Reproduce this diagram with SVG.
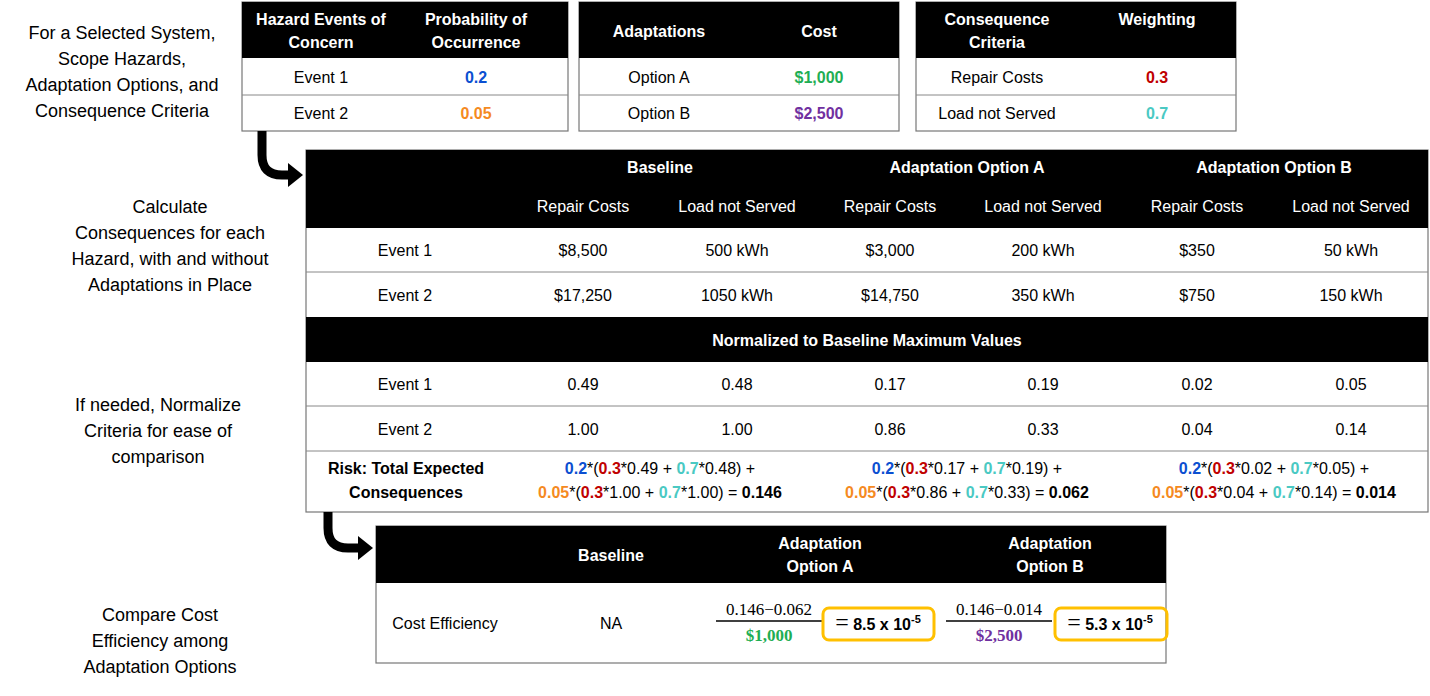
<svg xmlns="http://www.w3.org/2000/svg" width="1430" height="696" viewBox="0 0 1430 696">
<style>
text{font-family:"Liberation Sans",Arial,sans-serif;font-size:16px;text-anchor:middle;fill:#000}
.h{fill:#fff;font-weight:bold}
.l{font-size:18px}
.b{font-weight:bold}
.bl{fill:#0b4fd1;font-weight:bold}.or{fill:#f58a1f;font-weight:bold}.gr{fill:#1fae54;font-weight:bold}.pu{fill:#7030a0;font-weight:bold}.rd{fill:#c00000;font-weight:bold}.tl{fill:#4ac9c3;font-weight:bold}
.box{fill:#fff;stroke:#777;stroke-width:1.2}
.line{stroke:#888;stroke-width:1}
.sf{font-family:"Liberation Serif",serif;font-size:17px}
.yb{fill:none;stroke:#ffc000;stroke-width:3}
</style>
<rect width="1430" height="696" fill="#fff"/>
<g id="labels">
<text class="l" x="122" y="39">For a Selected System,</text>
<text class="l" x="122" y="65">Scope Hazards,</text>
<text class="l" x="122" y="91">Adaptation Options, and</text>
<text class="l" x="122" y="117">Consequence Criteria</text>
<text class="l" x="170" y="213">Calculate</text>
<text class="l" x="170" y="239">Consequences for each</text>
<text class="l" x="170" y="265">Hazard, with and without</text>
<text class="l" x="170" y="291">Adaptations in Place</text>
<text class="l" x="158" y="411">If needed, Normalize</text>
<text class="l" x="158" y="437">Criteria for ease of</text>
<text class="l" x="158" y="463">comparison</text>
<text class="l" x="160" y="621">Compare Cost</text>
<text class="l" x="160" y="647">Efficiency among</text>
<text class="l" x="160" y="673">Adaptation Options</text>
</g>
<g id="hazards">
<rect class="box" x="242" y="2" width="326" height="129"/>
<rect x="242" y="2" width="326" height="56" fill="#000"/>
<line class="line" x1="242" y1="95" x2="568" y2="95"/>
<text class="h" x="321" y="25">Hazard Events of</text><text class="h" x="321" y="48">Concern</text>
<text class="h" x="476" y="25">Probability of</text><text class="h" x="476" y="48">Occurrence</text>
<text x="321" y="83">Event 1</text><text class="bl" x="476" y="83">0.2</text>
<text x="321" y="119">Event 2</text><text class="or" x="476" y="119">0.05</text>
</g>
<g id="adaptations">
<rect class="box" x="579" y="2" width="320" height="129"/>
<rect x="579" y="2" width="320" height="56" fill="#000"/>
<line class="line" x1="579" y1="95" x2="899" y2="95"/>
<text class="h" x="659" y="37">Adaptations</text><text class="h" x="819" y="37">Cost</text>
<text x="659" y="83">Option A</text><text class="gr" x="819" y="83">$1,000</text>
<text x="659" y="119">Option B</text><text class="pu" x="819" y="119">$2,500</text>
</g>
<g id="criteria">
<rect class="box" x="916" y="2" width="320" height="129"/>
<rect x="916" y="2" width="320" height="56" fill="#000"/>
<line class="line" x1="916" y1="95" x2="1236" y2="95"/>
<text class="h" x="997" y="25">Consequence</text><text class="h" x="997" y="48">Criteria</text>
<text class="h" x="1157" y="25">Weighting</text>
<text x="997" y="83">Repair Costs</text><text class="rd" x="1157" y="83">0.3</text>
<text x="997" y="119">Load not Served</text><text class="tl" x="1157" y="119">0.7</text>
</g>
<g id="consequences">
<rect class="box" x="306" y="150" width="1122" height="362"/>
<rect x="306" y="150" width="1122" height="78" fill="#000"/>
<rect x="306" y="317" width="1122" height="45" fill="#000"/>
<line class="line" x1="306" y1="272" x2="1428" y2="272"/>
<line class="line" x1="306" y1="406" x2="1428" y2="406"/>
<line class="line" x1="306" y1="451" x2="1428" y2="451"/>
<text class="h" x="660" y="173">Baseline</text><text class="h" x="967" y="173">Adaptation Option A</text><text class="h" x="1274" y="173">Adaptation Option B</text>
<g fill="#fff"><text style="fill:#fff" x="583" y="212">Repair Costs</text><text style="fill:#fff" x="737" y="212">Load not Served</text><text style="fill:#fff" x="890" y="212">Repair Costs</text><text style="fill:#fff" x="1043" y="212">Load not Served</text><text style="fill:#fff" x="1197" y="212">Repair Costs</text><text style="fill:#fff" x="1351" y="212">Load not Served</text></g>
<text x="405" y="256">Event 1</text><text x="583" y="256">$8,500</text><text x="737" y="256">500 kWh</text><text x="890" y="256">$3,000</text><text x="1043" y="256">200 kWh</text><text x="1197" y="256">$350</text><text x="1351" y="256">50 kWh</text>
<text x="405" y="301">Event 2</text><text x="583" y="301">$17,250</text><text x="737" y="301">1050 kWh</text><text x="890" y="301">$14,750</text><text x="1043" y="301">350 kWh</text><text x="1197" y="301">$750</text><text x="1351" y="301">150 kWh</text>
<text class="h" x="867" y="346">Normalized to Baseline Maximum Values</text>
<text x="405" y="390">Event 1</text><text x="583" y="390">0.49</text><text x="737" y="390">0.48</text><text x="890" y="390">0.17</text><text x="1043" y="390">0.19</text><text x="1197" y="390">0.02</text><text x="1351" y="390">0.05</text>
<text x="405" y="435">Event 2</text><text x="583" y="435">1.00</text><text x="737" y="435">1.00</text><text x="890" y="435">0.86</text><text x="1043" y="435">0.33</text><text x="1197" y="435">0.04</text><text x="1351" y="435">0.14</text>
<text class="b" x="406" y="474">Risk: Total Expected</text><text class="b" x="406" y="498">Consequences</text>
<text x="660" y="474"><tspan class="bl">0.2</tspan>*(<tspan class="rd">0.3</tspan>*0.49 + <tspan class="tl">0.7</tspan>*0.48) +</text>
<text x="660" y="498"><tspan class="or">0.05</tspan>*(<tspan class="rd">0.3</tspan>*1.00 + <tspan class="tl">0.7</tspan>*1.00) = <tspan class="b">0.146</tspan></text>
<text x="967" y="474"><tspan class="bl">0.2</tspan>*(<tspan class="rd">0.3</tspan>*0.17 + <tspan class="tl">0.7</tspan>*0.19) +</text>
<text x="967" y="498"><tspan class="or">0.05</tspan>*(<tspan class="rd">0.3</tspan>*0.86 + <tspan class="tl">0.7</tspan>*0.33) = <tspan class="b">0.062</tspan></text>
<text x="1274" y="474"><tspan class="bl">0.2</tspan>*(<tspan class="rd">0.3</tspan>*0.02 + <tspan class="tl">0.7</tspan>*0.05) +</text>
<text x="1274" y="498"><tspan class="or">0.05</tspan>*(<tspan class="rd">0.3</tspan>*0.04 + <tspan class="tl">0.7</tspan>*0.14) = <tspan class="b">0.014</tspan></text>
</g>
<g id="efficiency">
<rect class="box" x="376" y="526" width="790" height="137"/>
<rect x="376" y="526" width="790" height="57" fill="#000"/>
<text class="h" x="611" y="561">Baseline</text>
<text class="h" x="820" y="549">Adaptation</text><text class="h" x="820" y="572">Option A</text>
<text class="h" x="1050" y="549">Adaptation</text><text class="h" x="1050" y="572">Option B</text>
<text x="445" y="629">Cost Efficiency</text><text x="611" y="629">NA</text>
<text class="sf" x="769" y="615">0.146−0.062</text>
<line x1="716" y1="621" x2="822" y2="621" stroke="#000" stroke-width="1.5"/>
<text class="sf gr" x="769" y="641">$1,000</text>
<rect class="yb" x="823" y="608" width="111" height="32" rx="6"/>
<text x="878" y="630"><tspan class="sf" style="font-size:24px">=</tspan><tspan class="b"> 8.5 x 10</tspan><tspan class="b" font-size="11" dy="-7">-5</tspan></text>
<text class="sf" x="999" y="615">0.146−0.014</text>
<line x1="946" y1="621" x2="1052" y2="621" stroke="#000" stroke-width="1.5"/>
<text class="sf pu" x="999" y="641">$2,500</text>
<rect class="yb" x="1055" y="608" width="112" height="32" rx="6"/>
<text x="1110" y="630"><tspan class="sf" style="font-size:24px">=</tspan><tspan class="b"> 5.3 x 10</tspan><tspan class="b" font-size="11" dy="-7">-5</tspan></text>
</g>
<g id="connectors" fill="none" stroke="#000" stroke-width="9">
<path d="M262 131 V155 Q262 175 282 175 H290"/>
<polygon points="288,163 303,175 288,187" fill="#000" stroke="none"/>
<path d="M328 512 V528 Q328 548 348 548 H360"/>
<polygon points="358,536 373,548 358,560" fill="#000" stroke="none"/>
</g>
</svg>
